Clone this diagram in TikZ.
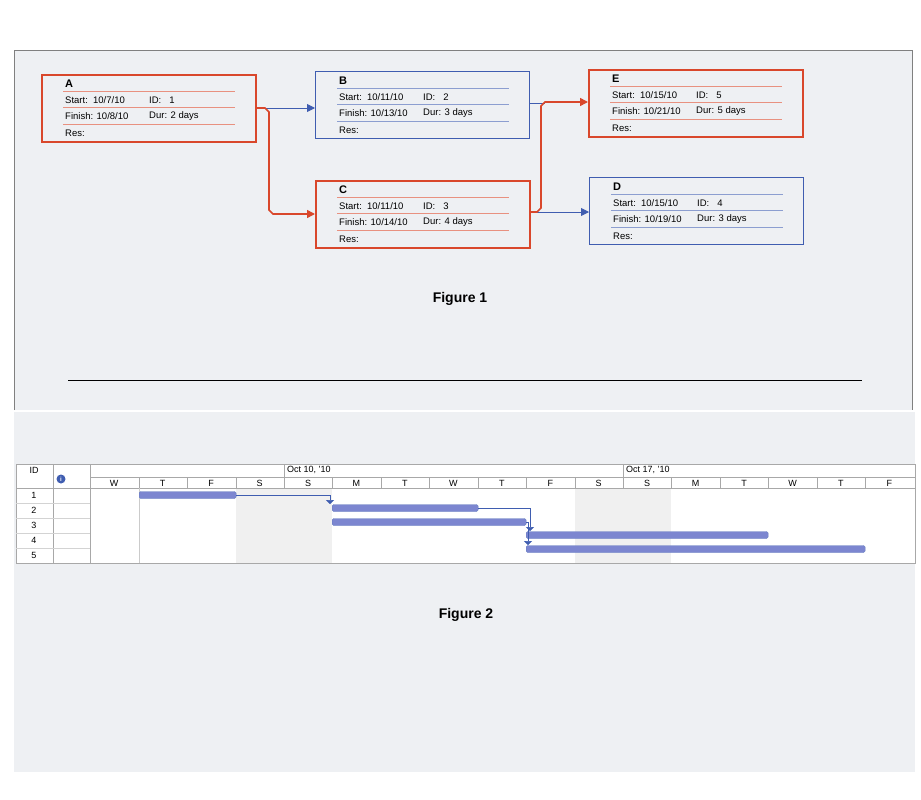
\documentclass[tikz,border=0pt]{standalone}
\usepackage{fontspec}
\setmainfont{Liberation Sans}
\usetikzlibrary{arrows.meta}
\definecolor{rd}{HTML}{D9472B}
\definecolor{bl}{HTML}{3F5DB0}
\definecolor{paper}{HTML}{EEF0F3}
\definecolor{bar}{HTML}{7C86D0}
\definecolor{grid}{HTML}{A8A8A8}
\def\bw{1.6pt}
\tikzset{
 box/.style={draw=#1,line width=\bw,minimum width=214pt,minimum height=67pt,anchor=north west,inner sep=0pt},
 t/.style={font=\fontsize{9.5}{10}\selectfont,anchor=west,inner sep=0pt},
 tt/.style={font=\bfseries\fontsize{11}{11}\selectfont,anchor=west,inner sep=0pt},
 g/.style={font=\fontsize{9}{9}\selectfont,inner sep=0pt},
 gb/.style={fill=bar,draw=bl!80,line width=0.4pt,rounded corners=1.5pt},
}
\newcommand{\netbox}[9]{%
 \node[box=#2] (#1) at (#3,#4) {};
 \node[tt] (#1t) at ([xshift=24pt,yshift=-10pt]#1.north west) {#5};
 \foreach \yy in {17,33,50}{\draw[#2!60,line width=0.5pt] ([xshift=22pt,yshift=-\yy pt]#1.north west) -- ++(172pt,0);}
 \node[t] (#1s) at ([xshift=24pt,yshift=-26pt]#1.north west) {Start:\ \ #6};
 \node[t] (#1i) at ([xshift=108pt,yshift=-26pt]#1.north west) {ID:\ \ \ #7};
 \node[t] (#1f) at ([xshift=24pt,yshift=-42pt]#1.north west) {Finish: #8};
 \node[t] (#1d) at ([xshift=108pt,yshift=-42pt]#1.north west) {Dur: #9};
 \node[t] (#1r) at ([xshift=24pt,yshift=-59pt]#1.north west) {Res:};
}
\begin{document}
\begin{tikzpicture}[x=1pt,y=-1pt]
\useasboundingbox (0,0) rectangle (921,800);
\fill[white] (0,0) rectangle (921,800);
\fill[paper] (14,50) rectangle (912,410);
\draw[gray,line width=0.6pt] (14,410) -- (14,50) -- (912,50) -- (912,410);
\fill[paper] (14,412) rectangle (915,772);
\draw[black,line width=0.8pt] (68,380) -- (862,380);
\netbox{A}{rd}{41}{74}{A}{10/7/10}{1}{10/8/10}{2 days}
\netbox{C}{rd}{315}{180}{C}{10/11/10}{3}{10/14/10}{4 days}
\netbox{E}{rd}{588}{69}{E}{10/15/10}{5}{10/21/10}{5 days}
\def\bw{1pt}
\netbox{B}{bl}{315}{71}{B}{10/11/10}{2}{10/13/10}{3 days}
\netbox{D}{bl}{589}{177}{D}{10/15/10}{4}{10/19/10}{3 days}
\coordinate (ja) at (256,108);
\draw[bl,line width=0.9pt,-{Triangle[length=8pt,width=8pt]}] (ja) -- (B.west|-ja);
\draw[rd,line width=1.6pt,-{Triangle[length=8pt,width=8pt]}] (ja) -- (265,108) -- (269,112) -- (269,210) -- (273,214) -- (C.west|-0,214);
\coordinate (jb) at (529,103);
\draw[bl,line width=0.9pt] (jb) -- (545,103);
\coordinate (jc) at (531,212);
\draw[bl,line width=0.9pt,-{Triangle[length=8pt,width=8pt]}] (jc) -- (D.west|-jc);
\draw[rd,line width=1.6pt,-{Triangle[length=8pt,width=8pt]}] (jc) -- (537,212) -- (541,208) -- (541,106) -- (545,102) -- (E.west|-0,102);
\node[font=\bfseries\fontsize{14}{14}\selectfont] (f1) at (460,299) {Figure 1};
\node[font=\bfseries\fontsize{14}{14}\selectfont] (f2) at (466,615) {Figure 2};
% gantt
\fill[white] (16,464) rectangle (915,563);
\fill[gray!12] (236,488) rectangle (332,563);
\fill[gray!12] (575,488) rectangle (671,563);
\draw[grid,line width=0.5pt] (16,464) rectangle (915,563);
\draw[grid,line width=0.5pt] (53,464) -- (53,563) (90,464) -- (90,563);
\draw[grid,line width=0.5pt] (90,477) -- (915,477) (16,488) -- (915,488);
\foreach \y in {503,518,533,548}{\draw[grid!50,line width=0.4pt] (16,\y) -- (90,\y);}
\draw[grid,line width=0.5pt] (284,464) -- (284,477) (623,464) -- (623,477);
\foreach \x in {139,187.5,236,284,332,381,429,478,526,575,623,671,720,768,817,865}{\draw[grid,line width=0.5pt] (\x,477) -- (\x,488);}
\draw[grid!60,line width=0.4pt] (139,488) -- (139,563);
\foreach \d [count=\i] in {W,T,F,S,S,M,T,W,T,F,S,S,M,T,W,T,F}{\node[g] (d\i) at ({90+48.45*(\i-0.5)},483) {\d};}
\node[g,anchor=west] (o1) at (287,470) {Oct 10, '10};
\node[g,anchor=west] (o2) at (626,470) {Oct 17, '10};
\node[g] (id) at (34,470) {ID};
\node[circle,fill=bl,inner sep=0pt,minimum size=9pt,text=white,font=\bfseries\fontsize{6}{6}\selectfont] (info) at (61,479) {i};
\foreach \r in {1,...,5}{\node[g] (r\r) at (34,{488+15*(\r-0.5)}) {\r};}
\node[gb,minimum width=97pt,minimum height=7pt,anchor=west] (b1) at (139,495) {};
\node[gb,minimum width=146pt,minimum height=7pt,anchor=west] (b2) at (332,508) {};
\node[gb,minimum width=194pt,minimum height=7pt,anchor=west] (b3) at (332,522) {};
\node[gb,minimum width=242pt,minimum height=7pt,anchor=west] (b4) at (526,535) {};
\node[gb,minimum width=339pt,minimum height=7pt,anchor=west] (b5) at (526,549) {};
\tikzset{lk/.style={bl,line width=0.6pt,-{Triangle[length=4pt,width=8pt]}}}
\draw[lk] (b1.east) -- (330,495) -- (330,504);
\draw[lk] (b2.east) -- (530,508) -- (530,531);
\draw[lk] (b3.east) -- (528,522) -- (528,545);
\end{tikzpicture}
\end{document}
